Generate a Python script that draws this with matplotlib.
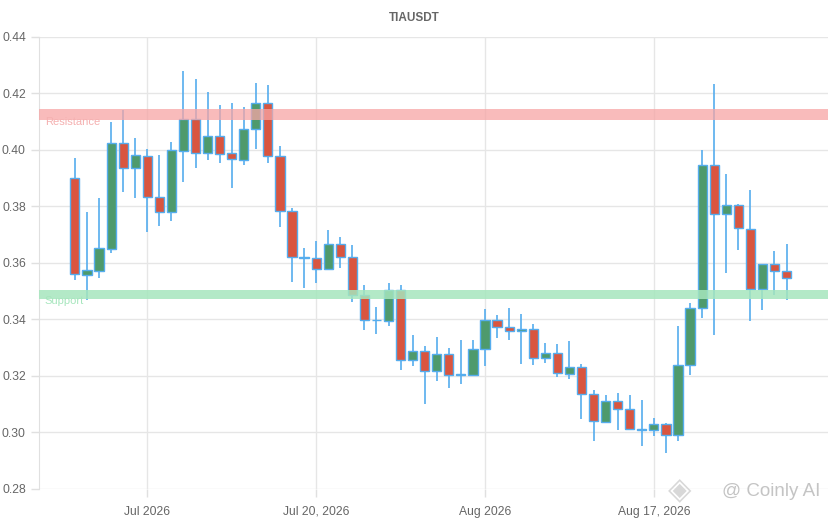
import matplotlib
matplotlib.use('Agg')
import matplotlib.pyplot as plt
import numpy as np

plt.rcParams['font.family'] = ['Liberation Sans', 'DejaVu Sans']

SYMBOL = 'TIAUSDT'

# daily candles
opens = [0.3901, 0.3559, 0.3572, 0.3651, 0.4026, 0.3938, 0.3980, 0.3832, 0.3779, 0.3998,
         0.4109, 0.3989, 0.4048, 0.3988, 0.3965, 0.4076, 0.4168, 0.3978, 0.3784, 0.3620,
         0.3616, 0.3577, 0.3666, 0.3620, 0.3487, 0.3397, 0.3393, 0.3506, 0.3258, 0.3289,
         0.3218, 0.3277, 0.3204, 0.3204, 0.3295, 0.3399, 0.3372, 0.3360, 0.3367, 0.3265,
         0.3280, 0.3206, 0.3232, 0.3138, 0.3037, 0.3112, 0.3082, 0.3012, 0.3010, 0.3030,
         0.2991, 0.3239, 0.3442, 0.3947, 0.3772, 0.3805, 0.3720, 0.3507, 0.3595, 0.3570]
closes = [0.3560, 0.3574, 0.3654, 0.4026, 0.3938, 0.3982, 0.3832, 0.3779, 0.4001, 0.4109,
          0.3990, 0.4048, 0.3987, 0.3967, 0.4075, 0.4168, 0.3978, 0.3784, 0.3620, 0.3616,
          0.3579, 0.3666, 0.3620, 0.3487, 0.3397, 0.3397, 0.3506, 0.3258, 0.3289, 0.3218,
          0.3277, 0.3204, 0.3204, 0.3295, 0.3399, 0.3372, 0.3360, 0.3367, 0.3265, 0.3280,
          0.3210, 0.3232, 0.3138, 0.3039, 0.3112, 0.3082, 0.3012, 0.3010, 0.3030, 0.2991,
          0.3239, 0.3442, 0.3947, 0.3772, 0.3807, 0.3723, 0.3507, 0.3595, 0.3572, 0.3548]
highs = [0.3973, 0.3782, 0.3829, 0.4100, 0.4140, 0.4041, 0.4002, 0.3984, 0.4028, 0.4281,
         0.4251, 0.4206, 0.4160, 0.4165, 0.4152, 0.4238, 0.4231, 0.4014, 0.3793, 0.3652,
         0.3678, 0.3716, 0.3692, 0.3665, 0.3522, 0.3444, 0.3530, 0.3522, 0.3345, 0.3305,
         0.3338, 0.3298, 0.3328, 0.3327, 0.3436, 0.3415, 0.3439, 0.3419, 0.3383, 0.3318,
         0.3312, 0.3324, 0.3242, 0.3150, 0.3133, 0.3141, 0.3132, 0.3116, 0.3053, 0.3035,
         0.3377, 0.3460, 0.4000, 0.4234, 0.3914, 0.3810, 0.3858, 0.3597, 0.3643, 0.3666]
lows = [0.3539, 0.3468, 0.3547, 0.3637, 0.3852, 0.3829, 0.3711, 0.3730, 0.3749, 0.3888,
        0.3935, 0.3963, 0.3953, 0.3864, 0.3947, 0.4003, 0.3955, 0.3727, 0.3533, 0.3510,
        0.3530, 0.3577, 0.3581, 0.3463, 0.3364, 0.3350, 0.3377, 0.3220, 0.3237, 0.3100,
        0.3183, 0.3157, 0.3171, 0.3200, 0.3235, 0.3336, 0.3327, 0.3244, 0.3238, 0.3247,
        0.3198, 0.3189, 0.3047, 0.2970, 0.3037, 0.3008, 0.3012, 0.2953, 0.2988, 0.2929,
        0.2970, 0.3204, 0.3404, 0.3346, 0.3566, 0.3645, 0.3393, 0.3433, 0.3487, 0.3468]

# support / resistance zones
resistance = [0.4106, 0.4146]
support = [0.3472, 0.3505]

tick_idx = [6, 20, 34, 48]
tick_labels = ['Jul 2026', 'Jul 20, 2026', 'Aug 2026', 'Aug 17, 2026']

GREEN = '#4e9a6c'
RED = '#d9553f'
EDGE = '#55adee'

fig = plt.figure(figsize=(8.29, 5.18), dpi=100)
ax = fig.add_axes([0.047, 0.056, 0.953, 0.8726])

x = np.arange(len(opens))
o = np.array(opens)
c = np.array(closes)
up = c >= o
colors = [GREEN if u else RED for u in up]

ax.vlines(x, lows, highs, color=EDGE, linewidth=1.2, zorder=3)
bottoms = np.minimum(o, c)
heights = np.maximum(np.abs(c - o), 0.0002)
ax.bar(x, heights, bottom=bottoms, width=0.76, color=colors,
       edgecolor=EDGE, linewidth=1.0, zorder=4)

ax.axhspan(resistance[0], resistance[1], color='#f7a5a5', alpha=0.75, lw=0, zorder=5)
ax.axhspan(support[0], support[1], color='#a6e6bd', alpha=0.85, lw=0, zorder=5)
ax.text(-2.5, resistance[0] - 0.0008, 'Resistance', color='#f5b0b0', fontsize=8,
        va='center', ha='left', zorder=6)
ax.text(-2.5, support[0] - 0.0008, 'Support', color='#a6e6bd', fontsize=8,
        va='center', ha='left', zorder=6)

ax.set_xlim(-2.98, 62.52)
ax.set_ylim(0.28, 0.44)
ax.set_yticks(np.arange(0.28, 0.4401, 0.02))
ax.set_yticklabels([f'{v:.2f}' for v in np.arange(0.28, 0.4401, 0.02)])
ax.set_xticks(tick_idx)
ax.set_xticklabels(tick_labels)

ax.grid(True, color='#e6e6e6', linewidth=1, zorder=0)
ax.set_axisbelow(True)
for side in ['top', 'right', 'bottom']:
    ax.spines[side].set_visible(False)
ax.spines['left'].set_color('#e0e0e0')
ax.tick_params(axis='both', colors='#e0e0e0', labelcolor='#666666', labelsize=8.7,
               length=6, width=1)
ax.tick_params(axis='x', pad=6)

fig.text(0.5, 0.965, SYMBOL, ha='center', va='center', fontsize=8.5,
         fontweight='bold', color='#666666')

# watermark
fig.text(0.82, 0.052, '\u25c8', ha='center', va='center', fontsize=22,
         color='#d8d8d8', family='DejaVu Sans')
fig.text(0.99, 0.052, '@ Coinly AI', ha='right', va='center', fontsize=13.5,
         color='#c4c4c4')

fig.savefig('out.png', dpi=100)
